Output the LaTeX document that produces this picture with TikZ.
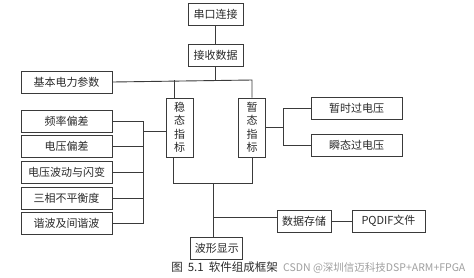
\documentclass[tikz,border=0pt]{standalone}
\usepackage{fontspec}
\setmainfont{Noto Sans CJK SC}
\newfontfamily\cjk{Noto Sans CJK SC}
\definecolor{ln}{HTML}{3A3A3A}
\definecolor{tx}{HTML}{2A2A2A}
\definecolor{wm}{HTML}{A0A0A0}
\begin{document}
\begin{tikzpicture}[x=1pt,y=-1pt,
  box/.style={draw=ln,line width=0.9pt,rectangle,inner sep=0pt,text=tx,font=\cjk\fontsize{11}{13}\selectfont},
  hbox/.style={box,minimum height=22pt},
  vbox/.style={box,minimum width=27pt,minimum height=59pt,align=center,font=\cjk\fontsize{11}{13.5}\selectfont},
  wire/.style={draw=ln,line width=0.9pt}]
\useasboundingbox (0,0) rectangle (474,277);
\fill[white] (0,0) rectangle (474,277);
% nodes
\node[hbox,minimum width=55pt] (ck) at (215.5,14) {串口连接};
\node[hbox,minimum width=55pt] (js) at (215.5,55) {接收数据};
\node[hbox,minimum width=91pt] (jb) at (66.5,82) {基本电力参数};
\node[vbox] (wt) at (179.5,127.5) {稳\\态\\指\\标};
\node[vbox] (zt) at (252,127.5) {暂\\态\\指\\标};
\node[hbox,minimum width=91pt] (pl) at (66.5,121) {频率偏差};
\node[hbox,minimum width=91pt] (dy) at (66.5,146.2) {电压偏差};
\node[hbox,minimum width=91pt] (bd) at (66.5,172.5) {电压波动与闪变};
\node[hbox,minimum width=91pt] (sx) at (66.5,198) {三相不平衡度};
\node[hbox,minimum width=91pt] (xb) at (66.5,223.5) {谐波及间谐波};
\node[hbox,minimum width=91pt] (zs) at (356.5,108.7) {暂时过电压};
\node[hbox,minimum width=91pt] (sh) at (356.5,145.7) {瞬态过电压};
\node[hbox,minimum width=52pt] (bx) at (216.8,248) {波形显示};
\node[hbox,minimum width=54pt] (sj) at (304,221) {数据存储};
\node[hbox,minimum width=73pt] (pq) at (388.5,221) {PQDIF文件};
% junctions
\coordinate (jA) at (215.5,80);
\coordinate (jZ) at (252,80);
\coordinate (jW) at (174,80);
\coordinate (bL1) at (143,121);
\coordinate (bL2) at (143,223.5);
\coordinate (bLw) at (143,131.7);
\coordinate (wB) at (173.5,183);
\coordinate (zB) at (252,183);
\coordinate (mB) at (213,183);
\coordinate (mS) at (213,217);
\coordinate (rT) at (283.3,108.7);
\coordinate (rB) at (283.3,145.7);
\coordinate (rM) at (283.3,127.5);
% connectors
\draw[wire] (ck) -- (js);
\draw[wire] (js.south) -- (jA);
\draw[wire] (jb.east) -- (jZ) -- (zt.north);
\draw[wire] (jW) -- (jW |- wt.north);
\draw[wire] (pl.east) -- (bL1) -- (bL2) -- (xb.east);
\draw[wire] (dy.east) -- (dy.east -| bL1);
\draw[wire] (bd.east) -- (bd.east -| bL1);
\draw[wire] (sx.east) -- (sx.east -| bL1);
\draw[wire] (bLw) -- (bLw -| wt.west);
\draw[wire] (wB |- wt.south) -- (wB) -- (zB) -- (zt.south);
\draw[wire] (mB) -- (mB |- bx.north);
\draw[wire] (mS) -- (mS -| sj.west);
\draw[wire] (sj) -- (pq);
\draw[wire] (zt.east |- rM) -- (rM);
\draw[wire] (zs.west) -- (rT) -- (rB) -- (sh.west);
% caption
\node[text=tx,font=\cjk\fontsize{11.5}{13}\selectfont,anchor=east,inner sep=0pt] (cap) at (278,267.5) {图\hspace{5pt}5.1\hspace{5pt}软件组成框架};
\node[text=wm,font=\cjk\fontsize{10.5}{12}\selectfont,anchor=west,inner sep=0pt] (wmk) at (283,267.5) {CSDN @深圳信迈科技DSP+ARM+FPGA};
\end{tikzpicture}
\end{document}
